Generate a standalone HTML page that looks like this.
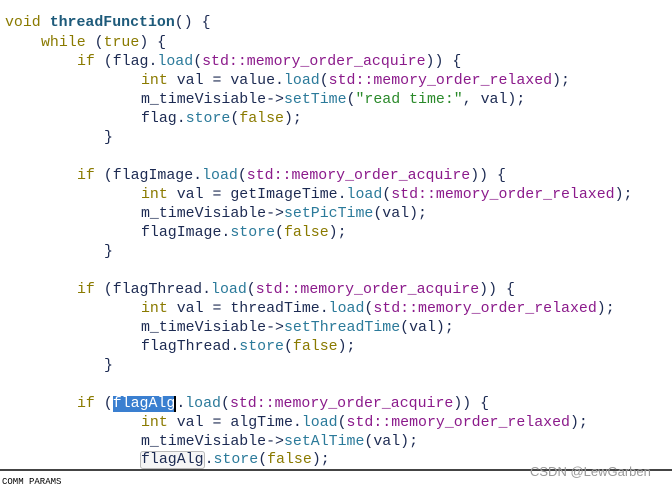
<!DOCTYPE html>
<html><head><meta charset="utf-8"><style>
body{margin:0;width:672px;height:487px;background:#fff;position:relative;overflow:hidden}
.l{position:absolute;font-family:"Liberation Mono",monospace;font-size:14.9px;line-height:19px;white-space:pre;color:#1c2a52}
.k{color:#8a7a00}.f{color:#2b7a9a}.p{color:#8b1a8b}.s{color:#2a8a2a}.b{font-weight:bold;color:#1d5a7a}
.sel{background:#3a7fd0;color:#fff}
.box{border:1px solid #bbb;border-radius:3px;background:#f6f6f6}
</style></head><body>
<div class="l" style="left:5px;top:14px"><span class="k">void</span> <span class="b">threadFunction</span>() {</div>
<div class="l" style="left:41px;top:34px"><span class="k">while</span> (<span class="k">true</span>) {</div>
<div class="l" style="left:77px;top:53px"><span class="k">if</span> (flag.<span class="f">load</span>(<span class="p">std::memory_order_acquire</span>)) {</div>
<div class="l" style="left:141px;top:72px"><span class="k">int</span> val = value.<span class="f">load</span>(<span class="p">std::memory_order_relaxed</span>);</div>
<div class="l" style="left:141px;top:91px">m_timeVisiable-&gt;<span class="f">setTime</span>(<span class="s">"read time:"</span>, val);</div>
<div class="l" style="left:141px;top:110px">flag.<span class="f">store</span>(<span class="k">false</span>);</div>
<div class="l" style="left:104px;top:129px">}</div>
<div class="l" style="left:77px;top:167px"><span class="k">if</span> (flagImage.<span class="f">load</span>(<span class="p">std::memory_order_acquire</span>)) {</div>
<div class="l" style="left:141px;top:186px"><span class="k">int</span> val = getImageTime.<span class="f">load</span>(<span class="p">std::memory_order_relaxed</span>);</div>
<div class="l" style="left:141px;top:205px">m_timeVisiable-&gt;<span class="f">setPicTime</span>(val);</div>
<div class="l" style="left:141px;top:224px">flagImage.<span class="f">store</span>(<span class="k">false</span>);</div>
<div class="l" style="left:104px;top:243px">}</div>
<div class="l" style="left:77px;top:281px"><span class="k">if</span> (flagThread.<span class="f">load</span>(<span class="p">std::memory_order_acquire</span>)) {</div>
<div class="l" style="left:141px;top:300px"><span class="k">int</span> val = threadTime.<span class="f">load</span>(<span class="p">std::memory_order_relaxed</span>);</div>
<div class="l" style="left:141px;top:319px">m_timeVisiable-&gt;<span class="f">setThreadTime</span>(val);</div>
<div class="l" style="left:141px;top:338px">flagThread.<span class="f">store</span>(<span class="k">false</span>);</div>
<div class="l" style="left:104px;top:357px">}</div>
<div class="l" style="left:77px;top:395px"><span class="k">if</span> (<span class="sel">flagAlg</span><span style="border-left:2px solid #000;margin-left:-1px"></span>.<span class="f">load</span>(<span class="p">std::memory_order_acquire</span>)) {</div>
<div class="l" style="left:141px;top:414px"><span class="k">int</span> val = algTime.<span class="f">load</span>(<span class="p">std::memory_order_relaxed</span>);</div>
<div class="l" style="left:141px;top:433px">m_timeVisiable-&gt;<span class="f">setAlTime</span>(val);</div>
<div class="l" style="left:140px;top:451px"><span class="box">flagAlg</span>.<span class="f">store</span>(<span class="k">false</span>);</div>
<div style="position:absolute;left:0;top:469px;width:672px;height:2px;background:#444"></div>
<div style="position:absolute;left:530px;top:464px;font-family:'Liberation Sans',sans-serif;font-size:13px;color:#999">CSDN @LewGarben</div>
<div style="position:absolute;left:2px;top:477px;font-family:'Liberation Mono',monospace;font-size:9px;color:#000">COMM PARAMS</div>
</body></html>
